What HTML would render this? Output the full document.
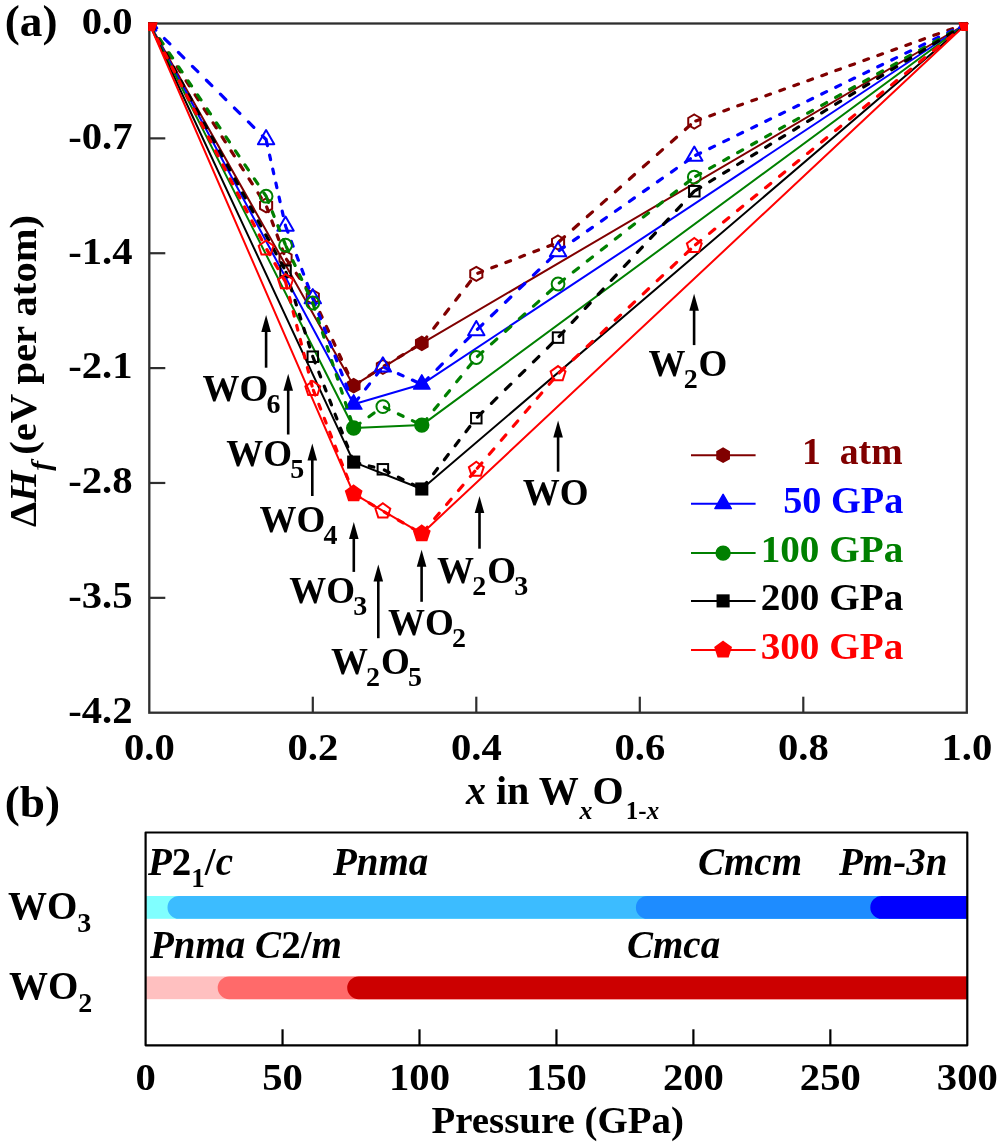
<!DOCTYPE html>
<html><head><meta charset="utf-8"><style>html,body{margin:0;padding:0;background:#fff;}svg{display:block;filter:blur(0.45px);}</style></head>
<body>
<svg width="1004" height="1145" viewBox="0 0 1004 1145">
<rect width="100%" height="100%" fill="#fff"/>
<rect x="149.3" y="23.5" width="817.5" height="689.2" fill="none" stroke="#2e2e2e" stroke-width="2.3"/>
<line x1="149.3" y1="138.37" x2="165.3" y2="138.37" stroke="#2e2e2e" stroke-width="2.2"/>
<line x1="149.3" y1="253.23" x2="165.3" y2="253.23" stroke="#2e2e2e" stroke-width="2.2"/>
<line x1="149.3" y1="368.10" x2="165.3" y2="368.10" stroke="#2e2e2e" stroke-width="2.2"/>
<line x1="149.3" y1="482.97" x2="165.3" y2="482.97" stroke="#2e2e2e" stroke-width="2.2"/>
<line x1="149.3" y1="597.83" x2="165.3" y2="597.83" stroke="#2e2e2e" stroke-width="2.2"/>
<line x1="312.80" y1="712.7" x2="312.80" y2="696.7" stroke="#2e2e2e" stroke-width="2.2"/>
<line x1="476.30" y1="712.7" x2="476.30" y2="696.7" stroke="#2e2e2e" stroke-width="2.2"/>
<line x1="639.80" y1="712.7" x2="639.80" y2="696.7" stroke="#2e2e2e" stroke-width="2.2"/>
<line x1="803.30" y1="712.7" x2="803.30" y2="696.7" stroke="#2e2e2e" stroke-width="2.2"/>
<line x1="149.30" y1="23.50" x2="266.09" y2="205.40" stroke="#800000" stroke-width="3.2" stroke-dasharray="5.95 10.69" stroke-dashoffset="-1.60" stroke-linecap="round"/>
<line x1="266.09" y1="205.40" x2="285.55" y2="258.00" stroke="#800000" stroke-width="3.2" stroke-dasharray="5.01 9.92" stroke-dashoffset="-1.60" stroke-linecap="round"/>
<line x1="285.55" y1="258.00" x2="312.80" y2="297.00" stroke="#800000" stroke-width="3.2" stroke-dasharray="6.19 10.89" stroke-dashoffset="-1.60" stroke-linecap="round"/>
<line x1="312.80" y1="297.00" x2="353.68" y2="385.70" stroke="#800000" stroke-width="3.2" stroke-dasharray="5.28 10.14" stroke-dashoffset="-1.60" stroke-linecap="round"/>
<line x1="353.68" y1="385.70" x2="382.87" y2="366.80" stroke="#800000" stroke-width="3.2" stroke-dasharray="5.97 10.70" stroke-dashoffset="-1.60" stroke-linecap="round"/>
<line x1="382.87" y1="366.80" x2="421.80" y2="343.40" stroke="#800000" stroke-width="3.2" stroke-dasharray="5.78 10.55" stroke-dashoffset="-1.60" stroke-linecap="round"/>
<line x1="421.80" y1="343.40" x2="476.30" y2="273.80" stroke="#800000" stroke-width="3.2" stroke-dasharray="6.58 11.20" stroke-dashoffset="-1.60" stroke-linecap="round"/>
<line x1="476.30" y1="273.80" x2="558.05" y2="242.50" stroke="#800000" stroke-width="3.2" stroke-dasharray="5.05 9.95" stroke-dashoffset="-1.60" stroke-linecap="round"/>
<line x1="558.05" y1="242.50" x2="694.30" y2="121.50" stroke="#800000" stroke-width="3.2" stroke-dasharray="7.10 11.63" stroke-dashoffset="-1.60" stroke-linecap="round"/>
<line x1="694.30" y1="121.50" x2="966.80" y2="23.50" stroke="#800000" stroke-width="3.2" stroke-dasharray="4.98 9.90" stroke-dashoffset="-1.60" stroke-linecap="round"/>
<path d="M149.30,23.50 L353.68,385.70 L421.80,343.40 L966.80,23.50" fill="none" stroke="#800000" stroke-width="2.0" stroke-linejoin="round"/>
<polygon points="266.09,198.40 272.15,201.90 272.15,208.90 266.09,212.40 260.02,208.90 260.02,201.90" stroke="#800000" stroke-width="2.0" fill="none"/>
<polygon points="285.55,251.00 291.61,254.50 291.61,261.50 285.55,265.00 279.49,261.50 279.49,254.50" stroke="#800000" stroke-width="2.0" fill="none"/>
<polygon points="312.80,290.00 318.86,293.50 318.86,300.50 312.80,304.00 306.74,300.50 306.74,293.50" stroke="#800000" stroke-width="2.0" fill="none"/>
<polygon points="353.68,378.70 359.74,382.20 359.74,389.20 353.68,392.70 347.61,389.20 347.61,382.20" stroke="#800000" stroke-width="1.6" fill="#800000"/>
<polygon points="382.87,359.80 388.93,363.30 388.93,370.30 382.87,373.80 376.81,370.30 376.81,363.30" stroke="#800000" stroke-width="2.0" fill="none"/>
<polygon points="421.80,336.40 427.86,339.90 427.86,346.90 421.80,350.40 415.74,346.90 415.74,339.90" stroke="#800000" stroke-width="1.6" fill="#800000"/>
<polygon points="476.30,266.80 482.36,270.30 482.36,277.30 476.30,280.80 470.24,277.30 470.24,270.30" stroke="#800000" stroke-width="2.0" fill="none"/>
<polygon points="558.05,235.50 564.11,239.00 564.11,246.00 558.05,249.50 551.99,246.00 551.99,239.00" stroke="#800000" stroke-width="2.0" fill="none"/>
<polygon points="694.30,114.50 700.36,118.00 700.36,125.00 694.30,128.50 688.24,125.00 688.24,118.00" stroke="#800000" stroke-width="2.0" fill="none"/>
<line x1="149.30" y1="23.50" x2="266.09" y2="139.50" stroke="#0000ff" stroke-width="3.2" stroke-dasharray="7.65 12.08" stroke-dashoffset="-1.60" stroke-linecap="round"/>
<line x1="266.09" y1="139.50" x2="285.55" y2="226.00" stroke="#0000ff" stroke-width="3.2" stroke-dasharray="4.69 9.66" stroke-dashoffset="-1.60" stroke-linecap="round"/>
<line x1="285.55" y1="226.00" x2="312.80" y2="298.60" stroke="#0000ff" stroke-width="3.2" stroke-dasharray="5.02 9.93" stroke-dashoffset="-1.60" stroke-linecap="round"/>
<line x1="312.80" y1="298.60" x2="353.68" y2="404.30" stroke="#0000ff" stroke-width="3.2" stroke-dasharray="5.06 9.95" stroke-dashoffset="-1.60" stroke-linecap="round"/>
<line x1="353.68" y1="404.30" x2="382.87" y2="366.80" stroke="#0000ff" stroke-width="3.2" stroke-dasharray="6.56 11.18" stroke-dashoffset="-1.60" stroke-linecap="round"/>
<line x1="382.87" y1="366.80" x2="421.80" y2="384.30" stroke="#0000ff" stroke-width="3.2" stroke-dasharray="5.24 10.11" stroke-dashoffset="-1.60" stroke-linecap="round"/>
<line x1="421.80" y1="384.30" x2="476.30" y2="330.40" stroke="#0000ff" stroke-width="3.2" stroke-dasharray="7.63 12.06" stroke-dashoffset="-1.60" stroke-linecap="round"/>
<line x1="476.30" y1="330.40" x2="558.05" y2="251.40" stroke="#0000ff" stroke-width="3.2" stroke-dasharray="7.51 11.96" stroke-dashoffset="-1.60" stroke-linecap="round"/>
<line x1="558.05" y1="251.40" x2="694.30" y2="156.00" stroke="#0000ff" stroke-width="3.2" stroke-dasharray="6.20 10.89" stroke-dashoffset="-1.60" stroke-linecap="round"/>
<line x1="694.30" y1="156.00" x2="966.80" y2="23.50" stroke="#0000ff" stroke-width="3.2" stroke-dasharray="5.36 10.21" stroke-dashoffset="-1.60" stroke-linecap="round"/>
<path d="M149.30,23.50 L353.68,404.30 L421.80,384.30 L966.80,23.50" fill="none" stroke="#0000ff" stroke-width="2.0" stroke-linejoin="round"/>
<polygon points="266.09,130.03 274.29,144.23 257.89,144.23" stroke="#0000ff" stroke-width="2.0" fill="none" stroke-linejoin="round"/>
<polygon points="285.55,216.53 293.75,230.73 277.35,230.73" stroke="#0000ff" stroke-width="2.0" fill="none" stroke-linejoin="round"/>
<polygon points="312.80,289.13 321.00,303.33 304.60,303.33" stroke="#0000ff" stroke-width="2.0" fill="none" stroke-linejoin="round"/>
<polygon points="353.68,394.83 361.88,409.03 345.48,409.03" stroke="#0000ff" stroke-width="1.6" fill="#0000ff" stroke-linejoin="round"/>
<polygon points="382.87,357.33 391.07,371.53 374.67,371.53" stroke="#0000ff" stroke-width="2.0" fill="none" stroke-linejoin="round"/>
<polygon points="421.80,374.83 430.00,389.03 413.60,389.03" stroke="#0000ff" stroke-width="1.6" fill="#0000ff" stroke-linejoin="round"/>
<polygon points="476.30,320.93 484.50,335.13 468.10,335.13" stroke="#0000ff" stroke-width="2.0" fill="none" stroke-linejoin="round"/>
<polygon points="558.05,241.93 566.25,256.13 549.85,256.13" stroke="#0000ff" stroke-width="2.0" fill="none" stroke-linejoin="round"/>
<polygon points="694.30,146.53 702.50,160.73 686.10,160.73" stroke="#0000ff" stroke-width="2.0" fill="none" stroke-linejoin="round"/>
<line x1="149.30" y1="23.50" x2="266.09" y2="196.20" stroke="#008000" stroke-width="3.2" stroke-dasharray="6.10 10.81" stroke-dashoffset="-1.60" stroke-linecap="round"/>
<line x1="266.09" y1="196.20" x2="285.55" y2="245.20" stroke="#008000" stroke-width="3.2" stroke-dasharray="5.09 9.98" stroke-dashoffset="-1.60" stroke-linecap="round"/>
<line x1="285.55" y1="245.20" x2="312.80" y2="303.00" stroke="#008000" stroke-width="3.2" stroke-dasharray="5.31 10.17" stroke-dashoffset="-1.60" stroke-linecap="round"/>
<line x1="312.80" y1="303.00" x2="353.68" y2="428.00" stroke="#008000" stroke-width="3.2" stroke-dasharray="4.90 9.83" stroke-dashoffset="-1.60" stroke-linecap="round"/>
<line x1="353.68" y1="428.00" x2="382.87" y2="406.60" stroke="#008000" stroke-width="3.2" stroke-dasharray="6.35 11.01" stroke-dashoffset="-1.60" stroke-linecap="round"/>
<line x1="382.87" y1="406.60" x2="421.80" y2="425.10" stroke="#008000" stroke-width="3.2" stroke-dasharray="5.33 10.18" stroke-dashoffset="-1.60" stroke-linecap="round"/>
<line x1="421.80" y1="425.10" x2="476.30" y2="357.50" stroke="#008000" stroke-width="3.2" stroke-dasharray="6.69 11.29" stroke-dashoffset="-1.60" stroke-linecap="round"/>
<line x1="476.30" y1="357.50" x2="558.05" y2="284.00" stroke="#008000" stroke-width="3.2" stroke-dasharray="7.15 11.67" stroke-dashoffset="-1.60" stroke-linecap="round"/>
<line x1="558.05" y1="284.00" x2="694.30" y2="177.10" stroke="#008000" stroke-width="3.2" stroke-dasharray="6.59 11.21" stroke-dashoffset="-1.60" stroke-linecap="round"/>
<line x1="694.30" y1="177.10" x2="966.80" y2="23.50" stroke="#008000" stroke-width="3.2" stroke-dasharray="5.64 10.43" stroke-dashoffset="-1.60" stroke-linecap="round"/>
<path d="M149.30,23.50 L353.68,428.00 L421.80,425.10 L966.80,23.50" fill="none" stroke="#008000" stroke-width="2.0" stroke-linejoin="round"/>
<circle cx="266.09" cy="196.20" r="6.4" stroke="#008000" stroke-width="2.0" fill="none"/>
<circle cx="285.55" cy="245.20" r="6.4" stroke="#008000" stroke-width="2.0" fill="none"/>
<circle cx="312.80" cy="303.00" r="6.4" stroke="#008000" stroke-width="2.0" fill="none"/>
<circle cx="353.68" cy="428.00" r="6.9" stroke="#008000" stroke-width="1.6" fill="#008000"/>
<circle cx="382.87" cy="406.60" r="6.4" stroke="#008000" stroke-width="2.0" fill="none"/>
<circle cx="421.80" cy="425.10" r="6.9" stroke="#008000" stroke-width="1.6" fill="#008000"/>
<circle cx="476.30" cy="357.50" r="6.4" stroke="#008000" stroke-width="2.0" fill="none"/>
<circle cx="558.05" cy="284.00" r="6.4" stroke="#008000" stroke-width="2.0" fill="none"/>
<circle cx="694.30" cy="177.10" r="6.4" stroke="#008000" stroke-width="2.0" fill="none"/>
<line x1="149.30" y1="23.50" x2="285.55" y2="270.80" stroke="#000000" stroke-width="3.2" stroke-dasharray="5.59 10.39" stroke-dashoffset="-1.60" stroke-linecap="round"/>
<line x1="285.55" y1="270.80" x2="312.80" y2="356.70" stroke="#000000" stroke-width="3.2" stroke-dasharray="4.88 9.81" stroke-dashoffset="-1.60" stroke-linecap="round"/>
<line x1="312.80" y1="356.70" x2="353.68" y2="462.10" stroke="#000000" stroke-width="3.2" stroke-dasharray="5.06 9.96" stroke-dashoffset="-1.60" stroke-linecap="round"/>
<line x1="353.68" y1="462.10" x2="382.87" y2="469.30" stroke="#000000" stroke-width="3.2" stroke-dasharray="4.73 9.69" stroke-dashoffset="-1.60" stroke-linecap="round"/>
<line x1="382.87" y1="469.30" x2="421.80" y2="489.00" stroke="#000000" stroke-width="3.2" stroke-dasharray="5.43 10.26" stroke-dashoffset="-1.60" stroke-linecap="round"/>
<line x1="421.80" y1="489.00" x2="476.30" y2="418.20" stroke="#000000" stroke-width="3.2" stroke-dasharray="6.52 11.15" stroke-dashoffset="-1.60" stroke-linecap="round"/>
<line x1="476.30" y1="418.20" x2="558.05" y2="337.60" stroke="#000000" stroke-width="3.2" stroke-dasharray="7.61 12.05" stroke-dashoffset="-1.60" stroke-linecap="round"/>
<line x1="558.05" y1="337.60" x2="694.30" y2="191.20" stroke="#000000" stroke-width="3.2" stroke-dasharray="7.32 11.81" stroke-dashoffset="-1.60" stroke-linecap="round"/>
<line x1="694.30" y1="191.20" x2="966.80" y2="23.50" stroke="#000000" stroke-width="3.2" stroke-dasharray="5.84 10.60" stroke-dashoffset="-1.60" stroke-linecap="round"/>
<path d="M149.30,23.50 L353.68,462.10 L421.80,489.00 L966.80,23.50" fill="none" stroke="#000000" stroke-width="2.0" stroke-linejoin="round"/>
<rect x="280.30" y="265.55" width="10.5" height="10.5" stroke="#000000" stroke-width="2.0" fill="none"/>
<rect x="307.55" y="351.45" width="10.5" height="10.5" stroke="#000000" stroke-width="2.0" fill="none"/>
<rect x="347.93" y="456.35" width="11.5" height="11.5" stroke="#000000" stroke-width="1.6" fill="#000000"/>
<rect x="377.62" y="464.05" width="10.5" height="10.5" stroke="#000000" stroke-width="2.0" fill="none"/>
<rect x="416.05" y="483.25" width="11.5" height="11.5" stroke="#000000" stroke-width="1.6" fill="#000000"/>
<rect x="471.05" y="412.95" width="10.5" height="10.5" stroke="#000000" stroke-width="2.0" fill="none"/>
<rect x="552.80" y="332.35" width="10.5" height="10.5" stroke="#000000" stroke-width="2.0" fill="none"/>
<rect x="689.05" y="185.95" width="10.5" height="10.5" stroke="#000000" stroke-width="2.0" fill="none"/>
<line x1="149.30" y1="23.50" x2="266.09" y2="248.20" stroke="#ff0000" stroke-width="3.2" stroke-dasharray="5.48 10.30" stroke-dashoffset="-1.60" stroke-linecap="round"/>
<line x1="266.09" y1="248.20" x2="285.55" y2="281.90" stroke="#ff0000" stroke-width="3.2" stroke-dasharray="5.69 10.48" stroke-dashoffset="-1.60" stroke-linecap="round"/>
<line x1="285.55" y1="281.90" x2="312.80" y2="388.80" stroke="#ff0000" stroke-width="3.2" stroke-dasharray="4.75 9.70" stroke-dashoffset="-1.60" stroke-linecap="round"/>
<line x1="312.80" y1="388.80" x2="353.68" y2="493.70" stroke="#ff0000" stroke-width="3.2" stroke-dasharray="5.06 9.96" stroke-dashoffset="-1.60" stroke-linecap="round"/>
<line x1="353.68" y1="493.70" x2="382.87" y2="511.10" stroke="#ff0000" stroke-width="3.2" stroke-dasharray="5.76 10.53" stroke-dashoffset="-1.60" stroke-linecap="round"/>
<line x1="382.87" y1="511.10" x2="421.80" y2="533.70" stroke="#ff0000" stroke-width="3.2" stroke-dasharray="5.70 10.48" stroke-dashoffset="-1.60" stroke-linecap="round"/>
<line x1="421.80" y1="533.70" x2="476.30" y2="469.50" stroke="#ff0000" stroke-width="3.2" stroke-dasharray="6.90 11.46" stroke-dashoffset="-1.60" stroke-linecap="round"/>
<line x1="476.30" y1="469.50" x2="558.05" y2="373.90" stroke="#ff0000" stroke-width="3.2" stroke-dasharray="6.93 11.49" stroke-dashoffset="-1.60" stroke-linecap="round"/>
<line x1="558.05" y1="373.90" x2="694.30" y2="245.80" stroke="#ff0000" stroke-width="3.2" stroke-dasharray="7.37 11.85" stroke-dashoffset="-1.60" stroke-linecap="round"/>
<line x1="694.30" y1="245.80" x2="966.80" y2="23.50" stroke="#ff0000" stroke-width="3.2" stroke-dasharray="6.74 11.33" stroke-dashoffset="-1.60" stroke-linecap="round"/>
<path d="M149.30,23.50 L353.68,493.70 L421.80,533.70 L966.80,23.50" fill="none" stroke="#ff0000" stroke-width="2.0" stroke-linejoin="round"/>
<polygon points="266.09,240.40 273.50,245.79 270.67,254.51 261.50,254.51 258.67,245.79" stroke="#ff0000" stroke-width="2.0" fill="none"/>
<polygon points="285.55,274.10 292.97,279.49 290.13,288.21 280.97,288.21 278.13,279.49" stroke="#ff0000" stroke-width="2.0" fill="none"/>
<polygon points="312.80,381.00 320.22,386.39 317.38,395.11 308.22,395.11 305.38,386.39" stroke="#ff0000" stroke-width="2.0" fill="none"/>
<polygon points="353.68,485.30 361.66,491.10 358.61,500.50 348.74,500.50 345.69,491.10" stroke="#ff0000" stroke-width="1.6" fill="#ff0000"/>
<polygon points="382.87,503.30 390.29,508.69 387.46,517.41 378.29,517.41 375.45,508.69" stroke="#ff0000" stroke-width="2.0" fill="none"/>
<polygon points="421.80,525.30 429.79,531.10 426.74,540.50 416.86,540.50 413.81,531.10" stroke="#ff0000" stroke-width="1.6" fill="#ff0000"/>
<polygon points="476.30,461.70 483.72,467.09 480.88,475.81 471.72,475.81 468.88,467.09" stroke="#ff0000" stroke-width="2.0" fill="none"/>
<polygon points="558.05,366.10 565.47,371.49 562.63,380.21 553.47,380.21 550.63,371.49" stroke="#ff0000" stroke-width="2.0" fill="none"/>
<polygon points="694.30,238.00 701.72,243.39 698.88,252.11 689.72,252.11 686.88,243.39" stroke="#ff0000" stroke-width="2.0" fill="none"/>
<clipPath id="fc"><rect x="148.10000000000002" y="22.3" width="819.9" height="691.6"/></clipPath>
<g clip-path="url(#fc)">
<polygon points="149.30,16.50 155.36,20.00 155.36,27.00 149.30,30.50 143.24,27.00 143.24,20.00" stroke="#800000" stroke-width="1.6" fill="#800000"/>
<polygon points="966.80,16.50 972.86,20.00 972.86,27.00 966.80,30.50 960.74,27.00 960.74,20.00" stroke="#800000" stroke-width="1.6" fill="#800000"/>
<polygon points="149.30,14.03 157.50,28.23 141.10,28.23" stroke="#0000ff" stroke-width="1.6" fill="#0000ff" stroke-linejoin="round"/>
<polygon points="966.80,14.03 975.00,28.23 958.60,28.23" stroke="#0000ff" stroke-width="1.6" fill="#0000ff" stroke-linejoin="round"/>
<circle cx="149.30" cy="23.50" r="6.9" stroke="#008000" stroke-width="1.6" fill="#008000"/>
<circle cx="966.80" cy="23.50" r="6.9" stroke="#008000" stroke-width="1.6" fill="#008000"/>
<rect x="143.55" y="17.75" width="11.5" height="11.5" stroke="#000000" stroke-width="1.6" fill="#000000"/>
<rect x="961.05" y="17.75" width="11.5" height="11.5" stroke="#000000" stroke-width="1.6" fill="#000000"/>
<polygon points="149.30,15.10 157.29,20.90 154.24,30.30 144.36,30.30 141.31,20.90" stroke="#ff0000" stroke-width="1.6" fill="#ff0000"/>
<polygon points="966.80,15.10 974.79,20.90 971.74,30.30 961.86,30.30 958.81,20.90" stroke="#ff0000" stroke-width="1.6" fill="#ff0000"/>
</g>
<text transform="translate(132.6,33.8) scale(1.07,1)" style="font-family:'Liberation Serif',serif;font-weight:bold;font-size:38px" text-anchor="end" fill="#000" >0.0</text>
<text transform="translate(132.6,148.66666666666669) scale(1.07,1)" style="font-family:'Liberation Serif',serif;font-weight:bold;font-size:38px" text-anchor="end" fill="#000" >-0.7</text>
<text transform="translate(132.6,263.53333333333336) scale(1.07,1)" style="font-family:'Liberation Serif',serif;font-weight:bold;font-size:38px" text-anchor="end" fill="#000" >-1.4</text>
<text transform="translate(132.6,378.4000000000001) scale(1.07,1)" style="font-family:'Liberation Serif',serif;font-weight:bold;font-size:38px" text-anchor="end" fill="#000" >-2.1</text>
<text transform="translate(132.6,493.2666666666667) scale(1.07,1)" style="font-family:'Liberation Serif',serif;font-weight:bold;font-size:38px" text-anchor="end" fill="#000" >-2.8</text>
<text transform="translate(132.6,608.1333333333333) scale(1.07,1)" style="font-family:'Liberation Serif',serif;font-weight:bold;font-size:38px" text-anchor="end" fill="#000" >-3.5</text>
<text transform="translate(132.6,723.0000000000001) scale(1.07,1)" style="font-family:'Liberation Serif',serif;font-weight:bold;font-size:38px" text-anchor="end" fill="#000" >-4.2</text>
<text transform="translate(149.3,760.3) scale(1.07,1)" style="font-family:'Liberation Serif',serif;font-weight:bold;font-size:38px" text-anchor="middle" fill="#000" >0.0</text>
<text transform="translate(312.8,760.3) scale(1.07,1)" style="font-family:'Liberation Serif',serif;font-weight:bold;font-size:38px" text-anchor="middle" fill="#000" >0.2</text>
<text transform="translate(476.3,760.3) scale(1.07,1)" style="font-family:'Liberation Serif',serif;font-weight:bold;font-size:38px" text-anchor="middle" fill="#000" >0.4</text>
<text transform="translate(639.8,760.3) scale(1.07,1)" style="font-family:'Liberation Serif',serif;font-weight:bold;font-size:38px" text-anchor="middle" fill="#000" >0.6</text>
<text transform="translate(803.3,760.3) scale(1.07,1)" style="font-family:'Liberation Serif',serif;font-weight:bold;font-size:38px" text-anchor="middle" fill="#000" >0.8</text>
<text transform="translate(966.8,760.3) scale(1.07,1)" style="font-family:'Liberation Serif',serif;font-weight:bold;font-size:38px" text-anchor="middle" fill="#000" >1.0</text>
<text transform="translate(4.8,36) scale(1.04,1)" style="font-family:'Liberation Serif',serif;font-weight:bold;font-size:43.5px" text-anchor="start" fill="#000" >(a)</text>
<text x="466" y="804" style="font-family:'Liberation Serif',serif;font-weight:bold;font-size:40px"><tspan font-style="italic">x</tspan> in W</text>
<text x="579.6" y="818.5" style="font-family:'Liberation Serif',serif;font-weight:bold;font-style:italic;font-size:26px">x</text>
<text x="592.6" y="804.3" style="font-family:'Liberation Serif',serif;font-weight:bold;font-size:40px">O</text>
<text x="625.8" y="819" style="font-family:'Liberation Serif',serif;font-weight:bold;font-size:25px">1-<tspan font-style="italic">x</tspan></text>
<text transform="translate(35.8,527) rotate(-90) scale(1.083,1)" style="font-family:'Liberation Serif',serif;font-weight:bold;font-size:37px">Δ<tspan font-style="italic">H</tspan><tspan font-style="italic" font-size="27" dy="14.5">f</tspan></text>
<text transform="translate(35.8,454.8) rotate(-90) scale(1.098,1)" style="font-family:'Liberation Serif',serif;font-weight:bold;font-size:37px">(eV per atom)</text>
<line x1="691" y1="455.2" x2="755.6" y2="455.2" stroke="#800000" stroke-width="2"/>
<polygon points="723.10,448.20 729.16,451.70 729.16,458.70 723.10,462.20 717.04,458.70 717.04,451.70" stroke="#800000" stroke-width="1.6" fill="#800000"/>
<text transform="translate(902.6,464.4) scale(1.02,1)" style="font-family:'Liberation Serif',serif;font-weight:bold;font-size:37px" text-anchor="end" fill="#800000" >1&#160; atm</text>
<line x1="691" y1="503.8" x2="755.6" y2="503.8" stroke="#0000ff" stroke-width="2"/>
<polygon points="723.10,494.33 731.30,508.53 714.90,508.53" stroke="#0000ff" stroke-width="1.6" fill="#0000ff" stroke-linejoin="round"/>
<text transform="translate(903.3,513.0) scale(1.035,1)" style="font-family:'Liberation Serif',serif;font-weight:bold;font-size:37px" text-anchor="end" fill="#0000ff" >50 GPa</text>
<line x1="691" y1="553.1" x2="755.6" y2="553.1" stroke="#008000" stroke-width="2"/>
<circle cx="723.10" cy="553.10" r="6.9" stroke="#008000" stroke-width="1.6" fill="#008000"/>
<text transform="translate(903.3,562.3000000000001) scale(1.06,1)" style="font-family:'Liberation Serif',serif;font-weight:bold;font-size:37px" text-anchor="end" fill="#008000" >100 GPa</text>
<line x1="691" y1="600.9" x2="755.6" y2="600.9" stroke="#000000" stroke-width="2"/>
<rect x="717.35" y="595.15" width="11.5" height="11.5" stroke="#000000" stroke-width="1.6" fill="#000000"/>
<text transform="translate(903.3,610.1) scale(1.06,1)" style="font-family:'Liberation Serif',serif;font-weight:bold;font-size:37px" text-anchor="end" fill="#000000" >200 GPa</text>
<line x1="691" y1="650" x2="755.6" y2="650" stroke="#ff0000" stroke-width="2"/>
<polygon points="723.10,641.60 731.09,647.40 728.04,656.80 718.16,656.80 715.11,647.40" stroke="#ff0000" stroke-width="1.6" fill="#ff0000"/>
<text transform="translate(903.3,659.2) scale(1.06,1)" style="font-family:'Liberation Serif',serif;font-weight:bold;font-size:37px" text-anchor="end" fill="#ff0000" >300 GPa</text>
<line x1="266.1" y1="328.9" x2="266.1" y2="367.7" stroke="#000" stroke-width="2.6"/>
<polygon points="266.1,314.9 270.90000000000003,331.9 261.3,331.9" fill="#000"/>
<line x1="288.2" y1="387.7" x2="288.2" y2="434.5" stroke="#000" stroke-width="2.6"/>
<polygon points="288.2,373.7 293.0,390.7 283.4,390.7" fill="#000"/>
<line x1="312.3" y1="457.5" x2="312.3" y2="496" stroke="#000" stroke-width="2.6"/>
<polygon points="312.3,443.5 317.1,460.5 307.5,460.5" fill="#000"/>
<line x1="353.8" y1="536.1" x2="353.8" y2="571.9" stroke="#000" stroke-width="2.6"/>
<polygon points="353.8,522.1 358.6,539.1 349.0,539.1" fill="#000"/>
<line x1="378.3" y1="578.5" x2="378.3" y2="638.2" stroke="#000" stroke-width="2.6"/>
<polygon points="378.3,564.5 383.1,581.5 373.5,581.5" fill="#000"/>
<line x1="421.6" y1="563.7" x2="421.6" y2="601.8" stroke="#000" stroke-width="2.6"/>
<polygon points="421.6,549.7 426.40000000000003,566.7 416.8,566.7" fill="#000"/>
<line x1="479.5" y1="510.1" x2="479.5" y2="548.7" stroke="#000" stroke-width="2.6"/>
<polygon points="479.5,496.1 484.3,513.1 474.7,513.1" fill="#000"/>
<line x1="558.1" y1="434.4" x2="558.1" y2="471.7" stroke="#000" stroke-width="2.6"/>
<polygon points="558.1,420.4 562.9,437.4 553.3000000000001,437.4" fill="#000"/>
<line x1="694.1" y1="307.7" x2="694.1" y2="345.1" stroke="#000" stroke-width="2.6"/>
<polygon points="694.1,293.7 698.9,310.7 689.3000000000001,310.7" fill="#000"/>
<text x="202.4" y="400.6" style="font-family:'Liberation Serif',serif;font-weight:bold;font-size:37px"><tspan dx="0" dy="0">WO</tspan><tspan font-size="28" dx="-1.8" dy="12">6</tspan></text>
<text x="226.3" y="466.3" style="font-family:'Liberation Serif',serif;font-weight:bold;font-size:37px"><tspan dx="0" dy="0">WO</tspan><tspan font-size="28" dx="-1.8" dy="12">5</tspan></text>
<text x="259.4" y="532.1" style="font-family:'Liberation Serif',serif;font-weight:bold;font-size:37px"><tspan dx="0" dy="0">WO</tspan><tspan font-size="28" dx="-1.8" dy="12">4</tspan></text>
<text x="289.3" y="603.1" style="font-family:'Liberation Serif',serif;font-weight:bold;font-size:37px"><tspan dx="0" dy="0">WO</tspan><tspan font-size="28" dx="-1.8" dy="12">3</tspan></text>
<text x="330.9" y="674.4" style="font-family:'Liberation Serif',serif;font-weight:bold;font-size:37px"><tspan dx="0" dy="0">W</tspan><tspan font-size="28" dx="-1.8" dy="12">2</tspan><tspan dx="0.9" dy="-12">O</tspan><tspan font-size="28" dx="-1.8" dy="12">5</tspan></text>
<text x="388.0" y="634.5" style="font-family:'Liberation Serif',serif;font-weight:bold;font-size:37px"><tspan dx="0" dy="0">WO</tspan><tspan font-size="28" dx="-1.8" dy="12">2</tspan></text>
<text x="437.1" y="582.8" style="font-family:'Liberation Serif',serif;font-weight:bold;font-size:37px"><tspan dx="0" dy="0">W</tspan><tspan font-size="28" dx="-1.8" dy="12">2</tspan><tspan dx="0.9" dy="-12">O</tspan><tspan font-size="28" dx="-1.8" dy="12">3</tspan></text>
<text x="522.7" y="505.4" style="font-family:'Liberation Serif',serif;font-weight:bold;font-size:37px"><tspan dx="0" dy="0">WO</tspan></text>
<text x="648.5" y="376.2" style="font-family:'Liberation Serif',serif;font-weight:bold;font-size:37px"><tspan dx="0" dy="0">W</tspan><tspan font-size="28" dx="-1.8" dy="12">2</tspan><tspan dx="0.9" dy="-12">O</tspan></text>
<rect x="145.6" y="896.0" width="821.6999999999999" height="22.8" fill="#80ffff"/>
<path d="M178.9,896.0 H967.3 V918.8 H178.9 A11.4,11.4 0 0 1 178.9,896.0 Z" fill="#3cbcff"/>
<path d="M647.3,896.0 H967.3 V918.8 H647.3 A11.4,11.4 0 0 1 647.3,896.0 Z" fill="#1e8cff"/>
<path d="M881.6999999999999,896.0 H967.3 V918.8 H881.6999999999999 A11.4,11.4 0 0 1 881.6999999999999,896.0 Z" fill="#0000ff"/>
<rect x="145.6" y="976.4" width="821.6999999999999" height="22.8" fill="#ffc0c0"/>
<path d="M229.1,976.4 H967.3 V999.1999999999999 H229.1 A11.4,11.4 0 0 1 229.1,976.4 Z" fill="#ff6a6a"/>
<path d="M358.59999999999997,976.4 H967.3 V999.1999999999999 H358.59999999999997 A11.4,11.4 0 0 1 358.59999999999997,976.4 Z" fill="#cc0000"/>
<rect x="145.6" y="832.5" width="821.6999999999999" height="212.79999999999995" fill="none" stroke="#000" stroke-width="2.2" stroke-linejoin="round"/>
<line x1="282.55" y1="1045.3" x2="282.55" y2="1029.3" stroke="#000" stroke-width="2.2"/>
<line x1="419.50" y1="1045.3" x2="419.50" y2="1029.3" stroke="#000" stroke-width="2.2"/>
<line x1="556.45" y1="1045.3" x2="556.45" y2="1029.3" stroke="#000" stroke-width="2.2"/>
<line x1="693.40" y1="1045.3" x2="693.40" y2="1029.3" stroke="#000" stroke-width="2.2"/>
<line x1="830.35" y1="1045.3" x2="830.35" y2="1029.3" stroke="#000" stroke-width="2.2"/>
<text transform="translate(145.60,1089.8) scale(1.07,1)" style="font-family:'Liberation Serif',serif;font-weight:bold;font-size:38px" text-anchor="middle" fill="#000" >0</text>
<text transform="translate(282.55,1089.8) scale(1.07,1)" style="font-family:'Liberation Serif',serif;font-weight:bold;font-size:38px" text-anchor="middle" fill="#000" >50</text>
<text transform="translate(419.50,1089.8) scale(1.07,1)" style="font-family:'Liberation Serif',serif;font-weight:bold;font-size:38px" text-anchor="middle" fill="#000" >100</text>
<text transform="translate(556.45,1089.8) scale(1.07,1)" style="font-family:'Liberation Serif',serif;font-weight:bold;font-size:38px" text-anchor="middle" fill="#000" >150</text>
<text transform="translate(693.40,1089.8) scale(1.07,1)" style="font-family:'Liberation Serif',serif;font-weight:bold;font-size:38px" text-anchor="middle" fill="#000" >200</text>
<text transform="translate(830.35,1089.8) scale(1.07,1)" style="font-family:'Liberation Serif',serif;font-weight:bold;font-size:38px" text-anchor="middle" fill="#000" >250</text>
<text transform="translate(967.30,1089.8) scale(1.07,1)" style="font-family:'Liberation Serif',serif;font-weight:bold;font-size:38px" text-anchor="middle" fill="#000" >300</text>
<text transform="translate(557.7,1133) scale(1.01,1)" style="font-family:'Liberation Serif',serif;font-weight:bold;font-size:38.5px" text-anchor="middle" fill="#000" >Pressure (GPa)</text>
<text transform="translate(4.8,817) scale(1.04,1)" style="font-family:'Liberation Serif',serif;font-weight:bold;font-size:43.5px" text-anchor="start" fill="#000" >(b)</text>
<text x="8" y="919" style="font-family:'Liberation Serif',serif;font-weight:bold;font-size:39px"><tspan dx="0" dy="0">WO</tspan><tspan font-size="28" dx="0" dy="13">3</tspan></text>
<text x="9" y="999.2" style="font-family:'Liberation Serif',serif;font-weight:bold;font-size:39px"><tspan dx="0" dy="0">WO</tspan><tspan font-size="28" dx="0" dy="13">2</tspan></text>
<text x="148" y="875" style="font-family:'Liberation Serif',serif;font-weight:bold;font-style:italic;font-size:39px">P<tspan font-style="normal">2</tspan><tspan font-style="normal" font-size="27" dy="12">1</tspan><tspan dy="-12" font-style="normal">/</tspan>c</text>
<text x="333" y="875" style="font-family:'Liberation Serif',serif;font-weight:bold;font-style:italic;font-size:39px">Pnma</text>
<text x="698" y="875" style="font-family:'Liberation Serif',serif;font-weight:bold;font-style:italic;font-size:39px">Cmcm</text>
<text x="839" y="875" style="font-family:'Liberation Serif',serif;font-weight:bold;font-style:italic;font-size:39px">Pm-3n</text>
<text x="150" y="957.5" style="font-family:'Liberation Serif',serif;font-weight:bold;font-style:italic;font-size:39px">Pnma C<tspan font-style="normal">2/</tspan>m</text>
<text x="627" y="957.5" style="font-family:'Liberation Serif',serif;font-weight:bold;font-style:italic;font-size:39px">Cmca</text>
</svg>
</body></html>
